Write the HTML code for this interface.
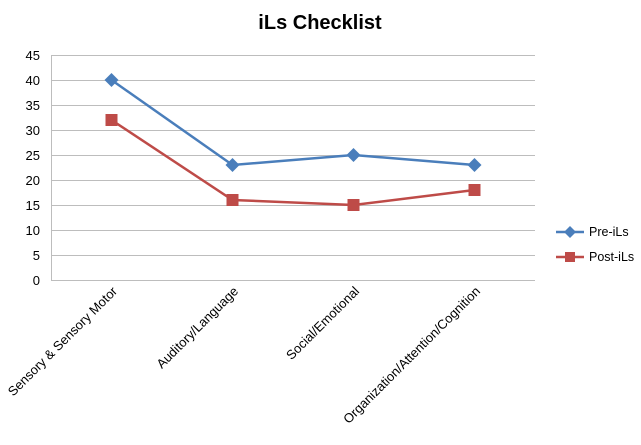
<!DOCTYPE html>
<html><head><style>body{margin:0;background:#fff}svg{display:block}</style></head><body>
<svg width="641" height="445" xmlns="http://www.w3.org/2000/svg" font-family="Liberation Sans, sans-serif">
<text x="320" y="29" text-anchor="middle" font-size="20" font-weight="bold" fill="#000">iLs Checklist</text>
<g stroke="#bdbdbd" stroke-width="1">
<line x1="51" y1="55.5" x2="535" y2="55.5"/><line x1="51" y1="80.5" x2="535" y2="80.5"/>
<line x1="51" y1="105.5" x2="535" y2="105.5"/><line x1="51" y1="130.5" x2="535" y2="130.5"/>
<line x1="51" y1="155.5" x2="535" y2="155.5"/><line x1="51" y1="180.5" x2="535" y2="180.5"/>
<line x1="51" y1="205.5" x2="535" y2="205.5"/><line x1="51" y1="230.5" x2="535" y2="230.5"/>
<line x1="51" y1="255.5" x2="535" y2="255.5"/><line x1="51" y1="280.5" x2="535" y2="280.5"/>
<line x1="51.5" y1="55" x2="51.5" y2="280"/>
</g>
<g font-size="13" fill="#000" text-anchor="end">
<text x="40" y="60">45</text><text x="40" y="85">40</text><text x="40" y="110">35</text>
<text x="40" y="135">30</text><text x="40" y="160">25</text><text x="40" y="185">20</text>
<text x="40" y="210">15</text><text x="40" y="235">10</text><text x="40" y="260">5</text><text x="40" y="285">0</text>
</g>
<g font-size="13" fill="#000" text-anchor="end">
<text transform="translate(118,292) rotate(-45)">Sensory &amp; Sensory Motor</text>
<text transform="translate(239,292) rotate(-45)">Auditory/Language</text>
<text transform="translate(360,292) rotate(-45)">Social/Emotional</text>
<text transform="translate(481,292) rotate(-45)">Organization/Attention/Cognition</text>
</g>
<polyline points="111.5,80 232.5,165 353.5,155 474.5,165" fill="none" stroke="#4a7ebb" stroke-width="2.5"/>
<polyline points="111.5,120 232.5,200 353.5,205 474.5,190" fill="none" stroke="#be4b48" stroke-width="2.5"/>
<g fill="#4a7ebb">
<path d="M111.5 73l7 7-7 7-7-7z"/><path d="M232.5 158l7 7-7 7-7-7z"/>
<path d="M353.5 148l7 7-7 7-7-7z"/><path d="M474.5 158l7 7-7 7-7-7z"/>
</g>
<g fill="#be4b48">
<rect x="105.5" y="114" width="12" height="12"/><rect x="226.5" y="194" width="12" height="12"/>
<rect x="347.5" y="199" width="12" height="12"/><rect x="468.5" y="184" width="12" height="12"/>
</g>
<line x1="556" y1="232" x2="584" y2="232" stroke="#4a7ebb" stroke-width="2.5"/>
<path d="M570 226l6 6-6 6-6-6z" fill="#4a7ebb"/>
<text x="589" y="236" font-size="12.5">Pre-iLs</text>
<line x1="556" y1="257" x2="584" y2="257" stroke="#be4b48" stroke-width="2.5"/>
<rect x="565" y="252" width="10" height="10" fill="#be4b48"/>
<text x="589" y="261" font-size="12.5">Post-iLs</text>
</svg>
</body></html>
